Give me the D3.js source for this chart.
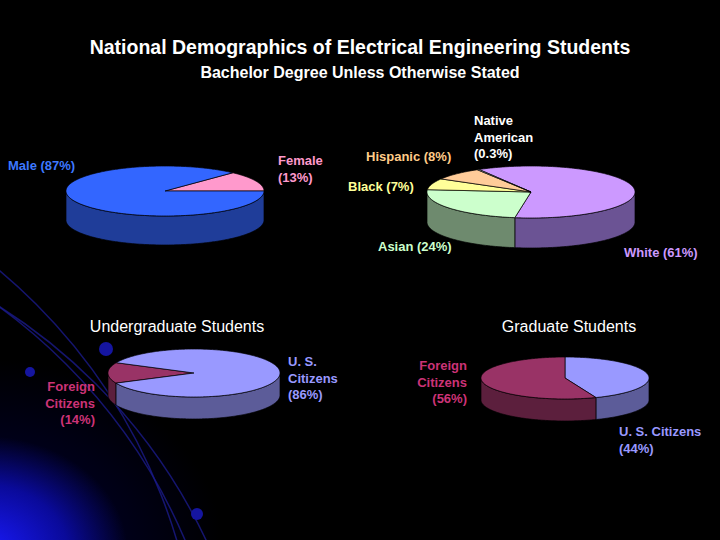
<!DOCTYPE html><html><head><meta charset="utf-8">
<script src="https://cdn.jsdelivr.net/npm/d3@7"></script>
<style>body{margin:0;background:#000}</style></head><body>
<script>
const genderLabels=["Female","Male"], genderValues=[13,87];
const raceLabels=["White","Asian","Black","Hispanic","Native American"], raceValues=[61,24,7,8,0.3];
const ugLabels=["Foreign Citizens","U. S. Citizens"], ugValues=[14,86];
const gradLabels=["U. S. Citizens","Foreign Citizens"], gradValues=[44,56];

const W=720,H=540;
const svg=d3.select("body").append("svg").attr("width",W).attr("height",H);
const defs=svg.append("defs");
const rg=defs.append("radialGradient").attr("id","bg").attr("cx","-0.05").attr("cy","1.05").attr("r","0.75");
rg.append("stop").attr("offset","0").attr("stop-color","#1a1aff");
rg.append("stop").attr("offset","0.35").attr("stop-color","#0a0a9a");
rg.append("stop").attr("offset","0.6").attr("stop-color","#000018");
rg.append("stop").attr("offset","1").attr("stop-color","#000");
svg.append("rect").attr("width",W).attr("height",H).attr("fill","#000");
svg.append("rect").attr("width",320).attr("height",260).attr("y",280).attr("fill","url(#bg)");
// decorative arcs
[[ -330,760,560],[ -300,780,560],[-360,700,560]].forEach(([cx,cy,r])=>{
  svg.append("circle").attr("cx",cx).attr("cy",cy).attr("r",r).attr("fill","none").attr("stroke","#1a1a8a").attr("stroke-width",1.5).attr("opacity",0.8);
});
[[106,349,7],[30,372,5],[197,514,6]].forEach(([x,y,r])=>svg.append("circle").attr("cx",x).attr("cy",y).attr("r",r).attr("fill","#1515a0"));

const rad=d=>d*Math.PI/180;
function pie3d(cfg){
  const {cx,cy,rx,ry,depth,start,values,tops,sides}=cfg;
  const total=d3.sum(values);
  const a=d3.scaleLinear().domain([0,total]).range([start,start+360]);
  let acc=0;const sl=values.map((v,i)=>{const s=a(acc);acc+=v;return {s,e:a(acc),i};});
  const pt=(t,dy=0)=>[cx+rx*Math.cos(rad(t)),cy+ry*Math.sin(rad(t))+dy];
  const g=svg.append("g");
  const line=d3.line();
  // sides: front half is angles in [0,180] (mod 360)
  sl.forEach(d=>{
    for(let k=-1;k<=1;k++){
      const lo=Math.max(d.s,k*360),hi=Math.min(d.e,k*360+180);
      if(hi<=lo) continue;
      const top=d3.range(lo,hi,1).concat([hi]).map(t=>pt(t));
      const bot=d3.range(lo,hi,1).concat([hi]).map(t=>pt(t,depth)).reverse();
      g.append("path").attr("d",line(top.concat(bot))+"Z").attr("fill",sides[d.i]).attr("stroke","#000").attr("stroke-width",0.7);
    }
  });
  sl.forEach(d=>{
    const pts=[[cx,cy]].concat(d3.range(d.s,d.e,1).concat([d.e]).map(t=>pt(t)));
    g.append("path").attr("d",line(pts)+"Z").attr("fill",tops[d.i]).attr("stroke","#000").attr("stroke-width",0.7);
  });
}
pie3d({cx:165,cy:191,rx:99,ry:25,depth:29,start:-46.8,values:genderValues,tops:["#ff99cc","#3366ff"],sides:["#99577a","#1f3d99"]});
pie3d({cx:531,cy:192,rx:104,ry:26,depth:30,start:-120,values:raceValues,tops:["#cc99ff","#ccffcc","#ffff99","#ffcc99","#ffffff"],sides:["#6b5394","#6e8a6e","#99995c","#997a5c","#999"]});
pie3d({cx:194,cy:373,rx:86,ry:24,depth:22,start:155,values:ugValues,tops:["#993366","#9999ff"],sides:["#5c1f3d","#5c5c99"]});
pie3d({cx:565,cy:378,rx:84,ry:21,depth:22,start:-90,values:gradValues,tops:["#9999ff","#993366"],sides:["#5c5c99","#5c1f3d"]});

function txt(x,y,lines,color,anchor="start",size=13,weight="bold"){
  const t=svg.append("text").attr("x",x).attr("y",y).attr("fill",color).attr("text-anchor",anchor)
   .attr("font-family","Liberation Sans, Arial, sans-serif").attr("font-size",size).attr("font-weight",weight);
  lines.forEach((l,i)=>t.append("tspan").attr("x",x).attr("dy",i?size*1.27:0).text(l));
}
txt(360,54,["National Demographics of Electrical Engineering Students"],"#fff","middle",19.5);
txt(360,78,["Bachelor Degree Unless Otherwise Stated"],"#fff","middle",16);
txt(8,170,[genderLabels[1]+" ("+genderValues[1]+"%)"],"#3d78ff");
txt(278,165,[genderLabels[0],"("+genderValues[0]+"%)"],"#ff99cc");
txt(474,125,["Native","American","("+raceValues[4]+"%)"],"#fff");
txt(366,161,[raceLabels[3]+" ("+raceValues[3]+"%)"],"#ffcc88");
txt(348,191,[raceLabels[2]+" ("+raceValues[2]+"%)"],"#ffff99");
txt(378,251,[raceLabels[1]+" ("+raceValues[1]+"%)"],"#ccffcc");
txt(624,257,[raceLabels[0]+" ("+raceValues[0]+"%)"],"#cc99ff");
txt(177,332,["Undergraduate Students"],"#fff","middle",16,"normal");
txt(569,332,["Graduate Students"],"#fff","middle",16,"normal");
txt(288,366,["U. S.","Citizens","("+ugValues[1]+"%)"],"#9999ff");
txt(95,391,["Foreign","Citizens","("+ugValues[0]+"%)"],"#cc3377","end");
txt(467,370,["Foreign","Citizens","("+gradValues[1]+"%)"],"#cc3377","end");
txt(619,436,["U. S. Citizens","("+gradValues[0]+"%)"],"#9999ff");
</script></body></html>
